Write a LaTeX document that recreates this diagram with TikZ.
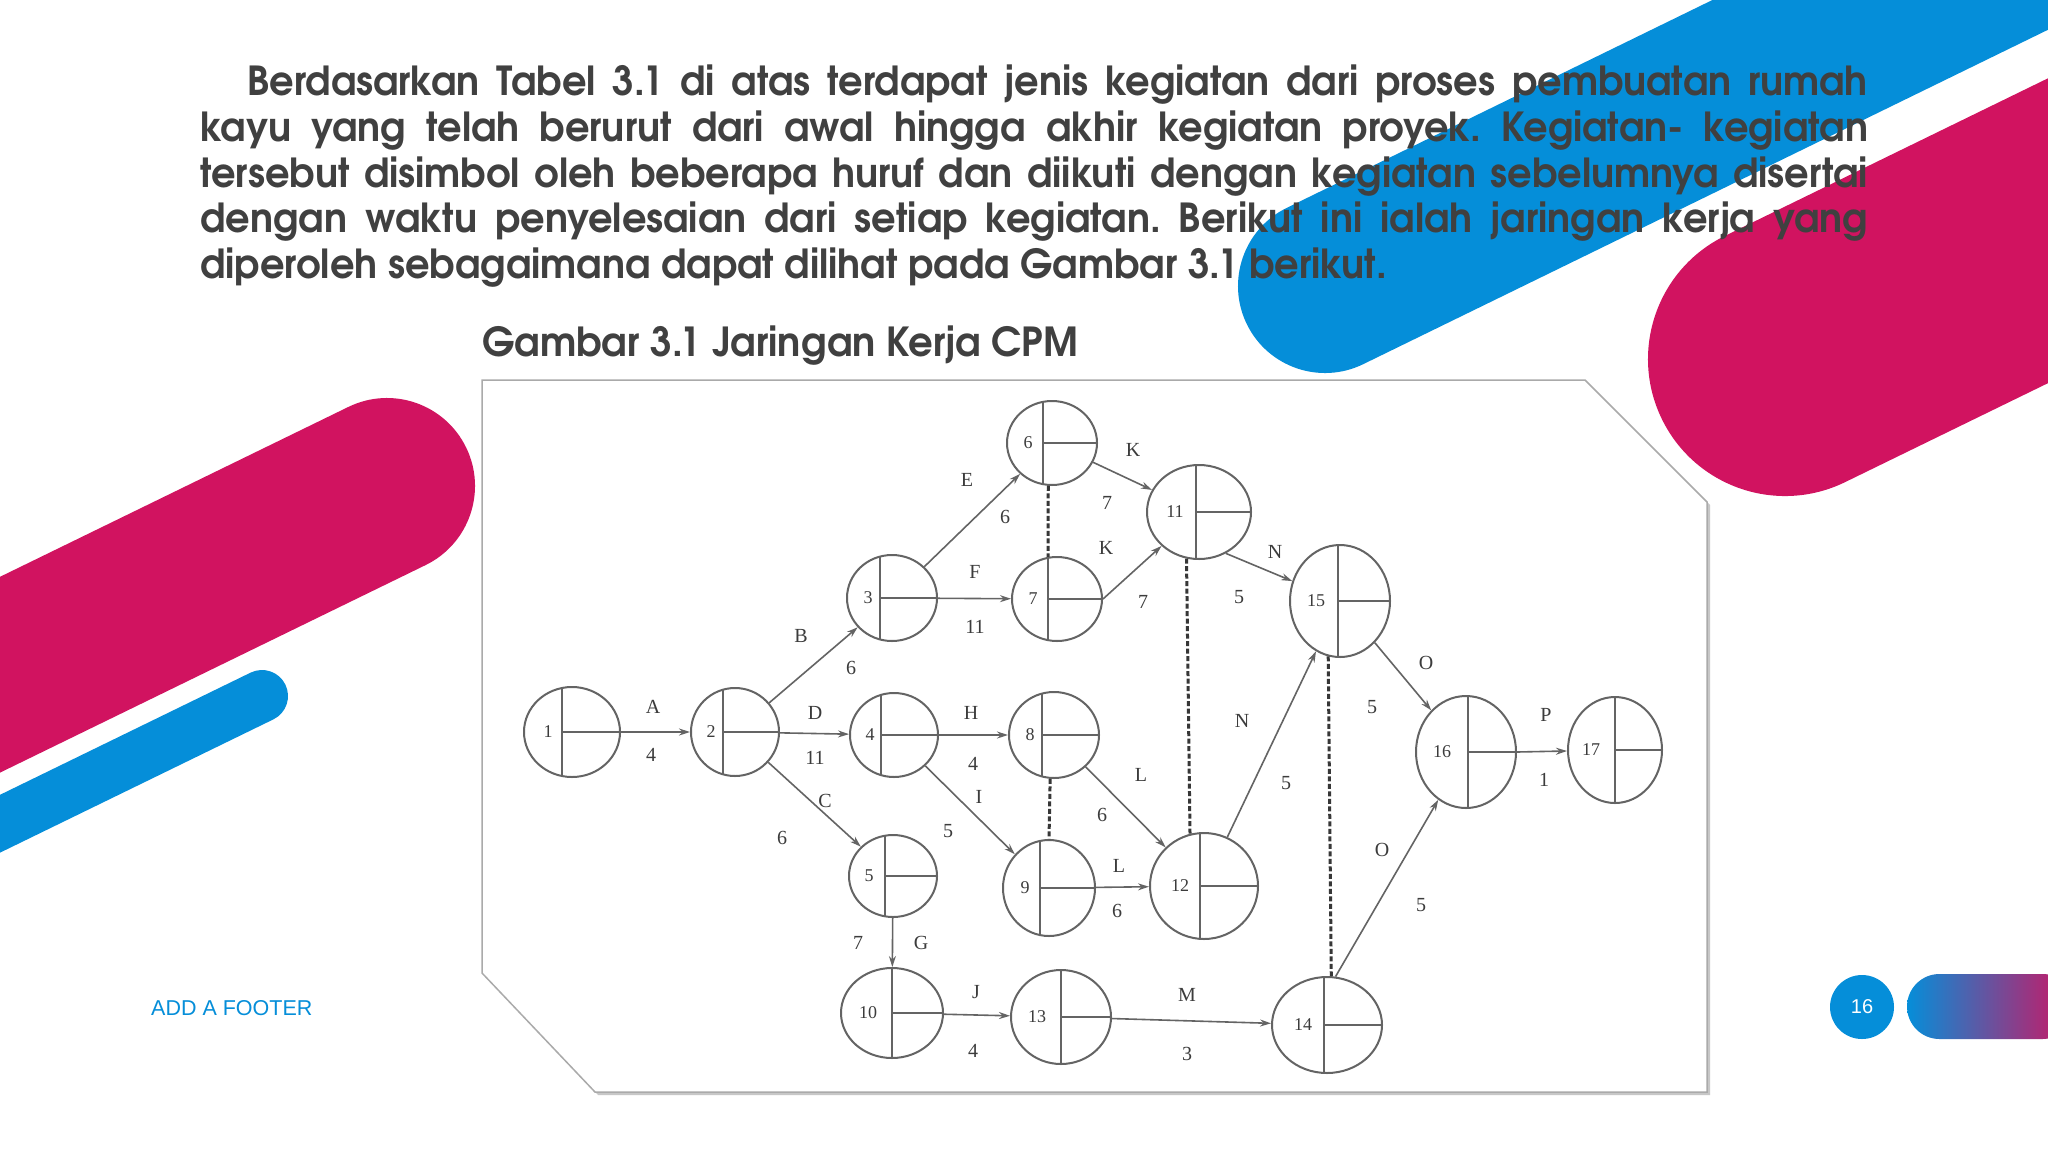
\documentclass[tikz,border=0pt]{standalone}
\usepackage{fontspec}
\usepackage{graphicx}
\usetikzlibrary{shapes.geometric,arrows.meta}
\setmainfont{Liberation Sans}
\newfontfamily\parafont{texgyreadventor-bold.otf}
\newfontfamily\serifd{Liberation Serif}
\definecolor{tblue}{RGB}{5,142,217}
\definecolor{tpink}{RGB}{209,19,96}
\definecolor{txt}{RGB}{64,64,64}
\definecolor{dline}{RGB}{100,100,100}
\definecolor{ddark}{RGB}{55,55,55}
\definecolor{dtext}{RGB}{60,60,60}
\definecolor{frameg}{RGB}{170,170,170}
\newlength\lastw
\newlength\capw
\newcommand\ptxt{\parafont\fontsize{40}{46}\selectfont}
\frenchspacing
\begin{document}
\settowidth\lastw{\ptxt diperoleh sebagaimana dapat dilihat pada Gambar 3.1 berikut.}%
\settowidth\capw{\ptxt Gambar 3.1 Jaringan Kerja CPM}%
\pgfmathsetmacro\sx{1187/\lastw}%
\pgfmathsetmacro\wA{1621/\sx}%
\pgfmathsetmacro\wB{1668/\sx}%
\pgfmathsetmacro\sxc{596/\capw}%
\begin{tikzpicture}[x=1pt,y=-1pt,
  para/.style={anchor=base west, inner sep=0pt, text=txt, font=\ptxt},
  nlab/.style={inner sep=0pt, text=dtext, font=\serifd\fontsize{18}{18}\selectfont},
  lab/.style={inner sep=0pt, text=dtext, font=\serifd\fontsize{20}{20}\selectfont},
  evt/.style n args={4}{ellipse, draw=dline, line width=2pt, fill=white, inner sep=0pt,
     minimum width=#1, minimum height=#2,
     path picture={
       \draw[dline, line width=1.8pt] ([xshift=#3]path picture bounding box.north) -- ([xshift=#3]path picture bounding box.south);
       \draw[dline, line width=1.8pt] ([xshift=#3]path picture bounding box.center) -- (path picture bounding box.east);
       \node[nlab] (k#4) at ([xshift=-24pt]path picture bounding box.center) {#4};
     }},
  arr/.style={draw=dline, line width=1.6pt, -{Stealth[length=11pt,width=7pt]}},
  dum/.style={draw=ddark, line width=3pt, dash pattern=on 5pt off 2.5pt}
]
\useasboundingbox (0,0) rectangle (2048,1152);
\clip (0,0) rectangle (2048,1152);
\fill[white] (0,0) rectangle (2048,1152);

% decorative bands
\draw[tblue, line width=174pt, line cap=round] (1325,286) -- (2224,-153);
\draw[tpink, line width=274pt, line cap=round] (1785,359) -- (2400,59);
\draw[tpink, line width=176pt, line cap=round] (387,486) -- (-300,821);
\draw[tblue, line width=52pt, line cap=round] (262,696) -- (-300,970);

% paragraph
\node[para] (p1) at (247,95) {\scalebox{\sx}[1]{\makebox[\wA pt][s]{Berdasarkan Tabel 3.1 di atas terdapat jenis kegiatan dari proses pembuatan rumah}}};
\node[para] (p2) at (200,141) {\scalebox{\sx}[1]{\makebox[\wB pt][s]{kayu yang telah berurut dari awal hingga akhir kegiatan proyek. Kegiatan- kegiatan}}};
\node[para] (p3) at (200,187) {\scalebox{\sx}[1]{\makebox[\wB pt][s]{tersebut disimbol oleh beberapa huruf dan diikuti dengan kegiatan sebelumnya disertai}}};
\node[para] (p4) at (200,232) {\scalebox{\sx}[1]{\makebox[\wB pt][s]{dengan waktu penyelesaian dari setiap kegiatan. Berikut ini ialah jaringan kerja yang}}};
\node[para] (p5) at (200,278) {\scalebox{\sx}[1]{diperoleh sebagaimana dapat dilihat pada Gambar 3.1 berikut.}};
\node[para] (cap) at (482,356) {\scalebox{\sxc}[1]{Gambar 3.1 Jaringan Kerja CPM}};

% frame
\fill[black!22, shift={(3,3)}] (482,380) -- (1585,380) -- (1707,502) -- (1707,1092) -- (595,1092) -- (482,973) -- cycle;
\filldraw[fill=white, draw=frameg, line width=1.5pt] (482,380) -- (1585,380) -- (1707,502) -- (1707,1092) -- (595,1092) -- (482,973) -- cycle;

% events
\node[evt={96pt}{90pt}{-10pt}{1}] (n1) at (572,732) {};
\node[evt={88pt}{88pt}{-12pt}{2}] (n2) at (735,732) {};
\node[evt={90pt}{86pt}{-12pt}{3}] (n3) at (892,598) {};
\node[evt={88pt}{84pt}{-13pt}{4}] (n4) at (894,735) {};
\node[evt={88pt}{82pt}{-8pt}{5}] (n5) at (893,876) {};
\node[evt={90pt}{84pt}{-9pt}{6}] (n6) at (1052,443) {};
\node[evt={90pt}{84pt}{-9pt}{7}] (n7) at (1057,599) {};
\node[evt={90pt}{86pt}{-12pt}{8}] (n8) at (1054,735) {};
\node[evt={92pt}{96pt}{-9pt}{9}] (n9) at (1049,888) {};
\node[evt={102pt}{90pt}{0pt}{10}] (n10) at (892,1013) {};
\node[evt={104pt}{94pt}{-3pt}{11}] (n11) at (1199,512) {};
\node[evt={108pt}{106pt}{-4pt}{12}] (n12) at (1204,886) {};
\node[evt={100pt}{94pt}{0pt}{13}] (n13) at (1061,1017) {};
\node[evt={110pt}{96pt}{-3pt}{14}] (n14) at (1327,1025) {};
\node[evt={100pt}{112pt}{-2pt}{15}] (n15) at (1340,601) {};
\node[evt={100pt}{112pt}{2pt}{16}] (n16) at (1466,752) {};
\node[evt={94pt}{106pt}{0pt}{17}] (n17) at (1615,750) {};

% activities
\draw[arr] (n1) -- (n2);
\draw[arr] (n2) -- (n3);
\draw[arr] (n2) -- (n4);
\draw[arr] (n2) -- (n5);
\draw[arr] (n3) -- (n6);
\draw[arr] (n3) -- (n7);
\draw[arr] (n4) -- (n8);
\draw[arr] (n4) -- (n9);
\draw[arr] (n5) -- (n10);
\draw[arr] (n6) -- (n11);
\draw[arr] (n7.east) -- (n11);
\draw[arr] (n8) -- (n12);
\draw[arr] (n9) -- (n12);
\draw[arr] (n10) -- (n13);
\draw[arr] (n11.-57) -- (n15);
\draw[arr] (n12) -- (n15);
\draw[arr] (n13) -- (n14);
\draw[arr] (n15) -- (n16);
\draw[arr] (n14.80) -- (n16);
\draw[arr] (n16.east) -- (n17);

% dummies
\draw[dum] (n6.-95) -- (n7.102);
\draw[dum] (n8.-95) -- (n9.90);
\draw[dum] (n11.-105) -- (n12.105);
\draw[dum] (n15.-102) -- (n14.85);

% labels
\node[lab] (a1) at (653,707) {A};  \node[lab] (a2) at (651,755) {4};
\node[lab] (b1) at (801,636) {B};  \node[lab] (b2) at (851,668) {6};
\node[lab] (d1) at (815,713) {D};  \node[lab] (d2) at (815,758) {11};
\node[lab] (c1) at (825,801) {C};  \node[lab] (c2) at (782,838) {6};
\node[lab] (e1) at (967,480) {E};  \node[lab] (e2) at (1005,517) {6};
\node[lab] (f1) at (975,572) {F};  \node[lab] (f2) at (975,627) {11};
\node[lab] (h1) at (971,713) {H};  \node[lab] (h2) at (973,764) {4};
\node[lab] (i1) at (979,797) {I};  \node[lab] (i2) at (948,831) {5};
\node[lab] (g1) at (921,943) {G};  \node[lab] (g2) at (858,943) {7};
\node[lab] (ka1) at (1133,450) {K}; \node[lab] (ka2) at (1107,503) {7};
\node[lab] (kb1) at (1106,548) {K}; \node[lab] (kb2) at (1143,602) {7};
\node[lab] (la1) at (1141,775) {L}; \node[lab] (la2) at (1102,815) {6};
\node[lab] (lb1) at (1119,866) {L}; \node[lab] (lb2) at (1117,911) {6};
\node[lab] (j1) at (976,992) {J};  \node[lab] (j2) at (973,1051) {4};
\node[lab] (na1) at (1275,552) {N}; \node[lab] (na2) at (1239,597) {5};
\node[lab] (nb1) at (1242,721) {N}; \node[lab] (nb2) at (1286,783) {5};
\node[lab] (m1) at (1187,995) {M};  \node[lab] (m2) at (1187,1054) {3};
\node[lab] (oa1) at (1426,663) {O}; \node[lab] (oa2) at (1372,707) {5};
\node[lab] (ob1) at (1382,850) {O}; \node[lab] (ob2) at (1421,905) {5};
\node[lab] (pp1) at (1546,715) {P}; \node[lab] (pp2) at (1544,780) {1};

% footer
\node[anchor=base west, inner sep=0pt, text=tblue, font=\fontsize{21.5}{22}\selectfont] (foot) at (151,1015) {ADD A FOOTER};
\node[circle, fill=tblue, minimum size=64pt, inner sep=0pt, text=white, font=\fontsize{20}{20}\selectfont] (pg) at (1862,1007) {16};
\shade[left color=tblue, right color=tpink, rounded corners=32.5pt] (1907,974) rectangle (2075,1039);
\end{tikzpicture}
\end{document}
